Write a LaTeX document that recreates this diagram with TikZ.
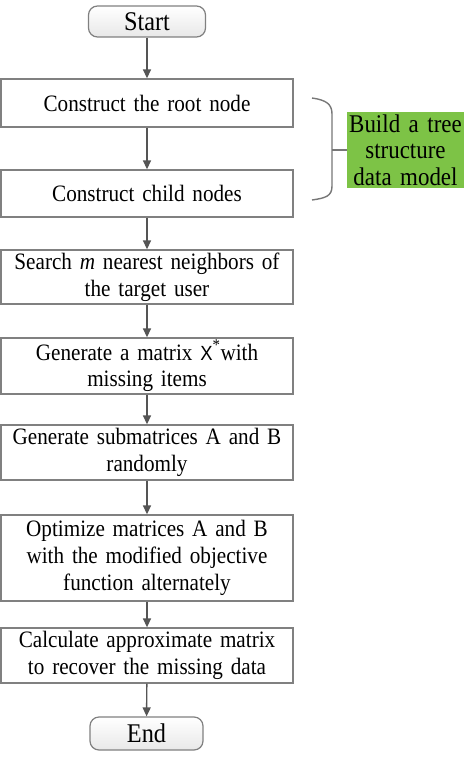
\documentclass[tikz,border=0pt]{standalone}
\usepackage{fontspec}
\setmainfont{Liberation Serif}[FakeStretch=0.9]
\setsansfont{Liberation Sans}[FakeStretch=0.9]
\usetikzlibrary{arrows.meta}
\definecolor{boxline}{RGB}{128,128,128}
\definecolor{arrowline}{RGB}{85,85,85}
\definecolor{leafgreen}{RGB}{125,195,70}
\begin{document}
\begin{tikzpicture}[x=1pt,y=-1pt,
  every node/.style={font=\fontsize{23.5}{26.7}\selectfont},
  stepbox/.style={draw=boxline,line width=1.3pt,fill=white,minimum width=292pt,text width=286pt,align=center,inner sep=0pt},
  termbox/.style={draw=boxline,line width=1.2pt,rounded corners=9pt,top color=white,bottom color=gray!18,inner sep=0pt,font=\fontsize{27}{30}\selectfont},
  flow/.style={draw=arrowline,line width=1.4pt,-{Triangle[width=8pt,length=9pt]}},
  bracestyle/.style={draw=arrowline!80,line width=1.4pt}]
\useasboundingbox (0,0) rectangle (474,760);
\node[termbox,minimum width=117pt,minimum height=31pt] (start) at (147,21.5) {Start};
\node[stepbox,minimum height=48pt] (b1) at (147,103) {Construct the root node};
\node[stepbox,minimum height=47pt] (b2) at (147,193.5) {Construct child nodes};
\node[stepbox,minimum height=54pt] (b3) at (147,277) {Search \textit{m} nearest neighbors of\\the target user};
\node[stepbox,minimum height=56pt] (b4) at (147,366) {Generate a matrix {\sffamily\fontsize{20.5}{24}\selectfont X}\textsuperscript{*}with\\missing items};
\node[stepbox,minimum height=55pt] (b5) at (147,452.5) {Generate submatrices A and B\\randomly};
\node[stepbox,minimum height=86pt] (b6) at (147,558) {Optimize matrices A and B\\with the modified objective\\function alternately};
\node[stepbox,minimum height=55pt] (b7) at (147,655.5) {Calculate approximate matrix\\to recover the missing data};
\node[termbox,minimum width=113pt,minimum height=33pt] (end) at (146.5,733.5) {End};
\node[fill=leafgreen,minimum width=117pt,minimum height=76pt,text width=114pt,align=center,inner sep=0pt,font=\fontsize{25.5}{26.7}\selectfont] (tree) at (405.5,150) {Build a tree\\structure\\data model};
\draw[flow] (start) -- (b1);
\draw[flow] (b1) -- (b2);
\draw[flow] (b2) -- (b3);
\draw[flow] (b3) -- (b4);
\draw[flow] (b4) -- (b5);
\draw[flow] (b5) -- (b6);
\draw[flow] (b6) -- (b7);
\draw[flow] (b7) -- (end);
\coordinate (bracetop) at (312,98);
\coordinate (bracebot) at (312,200);
\coordinate (bracemid) at (332,150);
\draw[bracestyle] (bracetop) .. controls (326,100) and (332,104) .. (332,114) -- (332,186) .. controls (332,196) and (326,198) .. (bracebot);
\draw[bracestyle] (bracemid) -- (tree.west);
\end{tikzpicture}
\end{document}
